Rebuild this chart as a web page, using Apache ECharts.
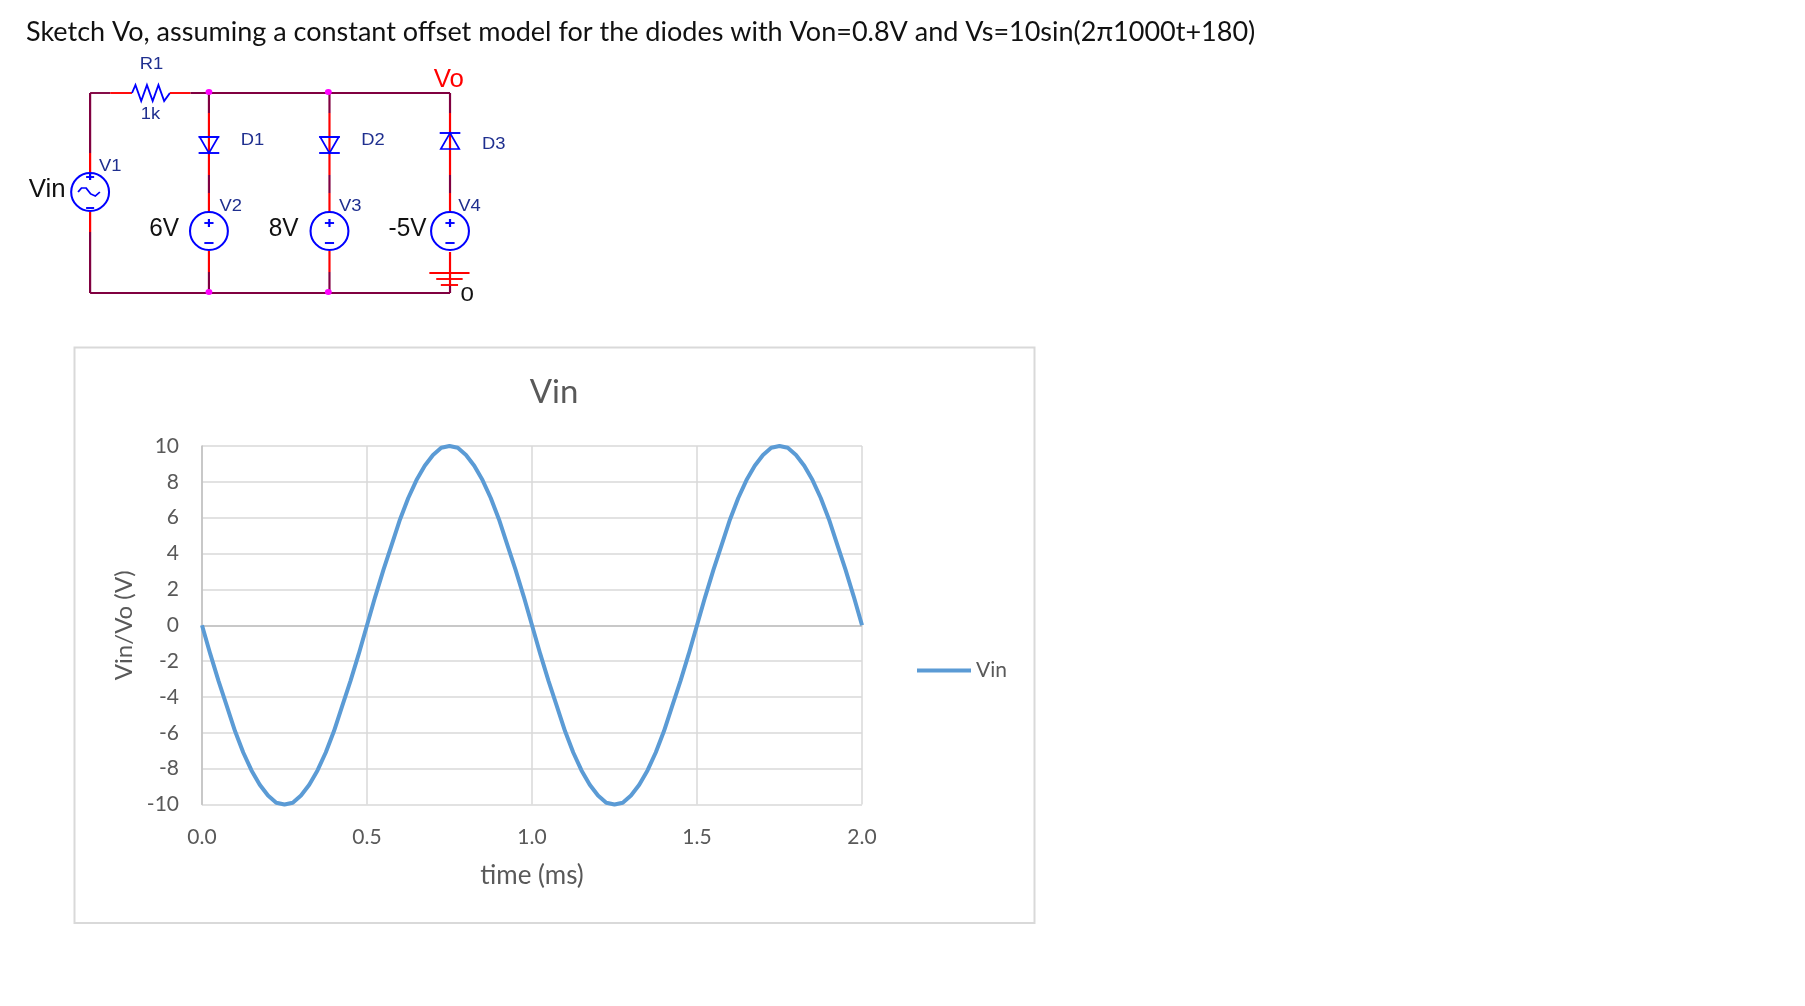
<!DOCTYPE html>
<html>
<head>
<meta charset="utf-8">
<style>
    html, body { margin: 0; padding: 0; background: #fff; }
    #main { width: 1805px; height: 1006px; }
</style>
</head>
<body>
<div id="main"></div>
<script src="https://cdn.jsdelivr.net/npm/echarts@6/dist/echarts.min.js"></script>
<script>
    // values
    var timeMs = [
        0, 0.025, 0.05, 0.075, 0.1, 0.125, 0.15, 0.175, 0.2, 0.225,
        0.25, 0.275, 0.3, 0.325, 0.35, 0.375, 0.4, 0.425, 0.45, 0.475,
        0.5, 0.525, 0.55, 0.575, 0.6, 0.625, 0.65, 0.675, 0.7, 0.725,
        0.75, 0.775, 0.8, 0.825, 0.85, 0.875, 0.9, 0.925, 0.95, 0.975,
        1, 1.025, 1.05, 1.075, 1.1, 1.125, 1.15, 1.175, 1.2, 1.225,
        1.25, 1.275, 1.3, 1.325, 1.35, 1.375, 1.4, 1.425, 1.45, 1.475,
        1.5, 1.525, 1.55, 1.575, 1.6, 1.625, 1.65, 1.675, 1.7, 1.725,
        1.75, 1.775, 1.8, 1.825, 1.85, 1.875, 1.9, 1.925, 1.95, 1.975, 2
    ];
    var vin = [
        0, -1.6, -3.1, -4.5, -5.9, -7.1, -8.1, -8.9, -9.5, -9.9,
        -10, -9.9, -9.5, -8.9, -8.1, -7.1, -5.9, -4.5, -3.1, -1.6,
        0, 1.6, 3.1, 4.5, 5.9, 7.1, 8.1, 8.9, 9.5, 9.9,
        10, 9.9, 9.5, 8.9, 8.1, 7.1, 5.9, 4.5, 3.1, 1.6,
        0, -1.6, -3.1, -4.5, -5.9, -7.1, -8.1, -8.9, -9.5, -9.9,
        -10, -9.9, -9.5, -8.9, -8.1, -7.1, -5.9, -4.5, -3.1, -1.6,
        0, 1.6, 3.1, 4.5, 5.9, 7.1, 8.1, 8.9, 9.5, 9.9,
        10, 9.9, 9.5, 8.9, 8.1, 7.1, 5.9, 4.5, 3.1, 1.6,
        0
    ];
    var seriesName = 'Vin';
    var chartTitle = 'Vin';
    var xName = 'time (ms)';
    var yName = 'Vin/Vo (V)';
    var heading = 'Sketch Vo, assuming a constant offset model for the diodes with Von=0.8V and Vs=10sin(2π1000t+180)';

    var WIRE = '#800040', RED = '#ff0000', BLUE = '#0000ff', NAVY = '#1f2f8f', DOT = '#ff00ff';
    var GRID = '#d9d9d9', TEXT = '#595959';
    var CHART_FONT = 'Lato, "Open Sans", sans-serif';
    var SCH_FONT = '"Liberation Sans", Arial, sans-serif';
    var SCH_SCALE_X = 1.148;

    var parts = [];

    function wire(x1, y1, x2, y2, color) {
        parts.push({
            type: 'line',
            shape: {x1: x1, y1: y1, x2: x2, y2: y2},
            style: {stroke: color, lineWidth: 1.9}
        });
    }

    function poly(points, close) {
        parts.push({
            type: close ? 'polygon' : 'polyline',
            shape: {points: points},
            style: {stroke: BLUE, fill: close ? 'transparent' : null, lineWidth: 1.6}
        });
    }

    function label(x, y, text, size, color, scaleX) {
        parts.push({
            type: 'text',
            x: x, y: y,
            scaleX: scaleX || 1,
            style: {
                text: text, font: size + 'px ' + SCH_FONT, fill: color,
                textAlign: 'center', textVerticalAlign: 'middle'
            }
        });
    }

    function source(x, y) {
        parts.push({
            type: 'ellipse',
            shape: {cx: x, cy: y, rx: 16.5, ry: 19},
            style: {stroke: BLUE, fill: 'transparent', lineWidth: 1.8}
        });
    }

    function plusMinus(x, y) {
        wire(x - 4, y - 8, x + 4, y - 8, BLUE);
        wire(x, y - 12, x, y - 4, BLUE);
        wire(x - 4, y + 12, x + 4, y + 12, BLUE);
    }

    // schematic branch from the top wire to the bottom wire
    function branch(x, upward) {
        wire(x, 93, x, 113, WIRE);
        wire(x, 113, x, 175, RED);
        wire(x, 175, x, 193, WIRE);
        wire(x, 193, x, 212, RED);
        source(x, 231);
        plusMinus(x, 231);
        if (upward) {
            poly([[x, 133], [x - 8, 149], [x + 8, 149]], true);
            wire(x - 9, 133, x + 9, 133, BLUE);
        } else {
            poly([[x - 8, 137], [x + 8, 137], [x, 153]], true);
            wire(x - 9, 137, x + 9, 137, BLUE);
            wire(x - 9, 153, x + 9, 153, BLUE);
        }
    }

    // outer loop
    wire(78.5, 93, 96, 93, WIRE);
    wire(96, 93, 115, 93, RED);
    poly([[115, 93], [118, 85], [123, 101], [128, 85], [133, 101], [138, 85], [143, 101], [148, 93]]);
    wire(148, 93, 166, 93, RED);
    wire(166, 93, 392, 93, WIRE);
    wire(78.5, 93, 78.5, 153, WIRE);
    wire(78.5, 153, 78.5, 173, RED);
    wire(78.5, 212, 78.5, 232, RED);
    wire(78.5, 232, 78.5, 293, WIRE);
    wire(78.5, 293, 392, 293, WIRE);

    // V1
    source(78.5, 192);
    wire(75, 177, 82, 177, BLUE);
    wire(78.5, 174, 78.5, 180, BLUE);
    wire(75, 208, 82, 208, BLUE);
    poly([[68, 192], [71, 188], [75, 188], [79, 194], [83, 196], [87, 192]]);

    // lower part of the D1 and D2 branches
    branch(182, false);
    wire(182, 251, 182, 272, RED);
    wire(182, 272, 182, 293, WIRE);
    branch(287, false);
    wire(287, 251, 287, 272, RED);
    wire(287, 272, 287, 293, WIRE);

    // D3 branch with the ground symbol
    branch(392, true);
    wire(392, 252, 392, 285, RED);
    wire(392, 285, 392, 293, WIRE);
    wire(374, 273, 409, 273, RED);
    wire(380, 279, 403, 279, RED);
    wire(384, 285, 399, 285, RED);

    [[182, 92], [286, 92], [182, 292], [286, 292]].forEach(function (p) {
        parts.push({
            type: 'circle',
            shape: {cx: p[0], cy: p[1], r: 3},
            style: {fill: DOT}
        });
    });

    label(132, 65, 'R1', 16, NAVY);
    label(131, 115, '1k', 16, NAVY);
    label(220, 141, 'D1', 16, NAVY);
    label(325, 141, 'D2', 16, NAVY);
    label(430, 145, 'D3', 16, NAVY);
    label(96, 167, 'V1', 16, NAVY);
    label(201, 207, 'V2', 16, NAVY);
    label(305, 207, 'V3', 16, NAVY);
    label(409, 207, 'V4', 16, NAVY);
    label(41, 190, 'Vin', 25, '#111', 0.9);
    label(143, 229, '6V', 25, '#111', 0.85);
    label(247, 229, '8V', 25, '#111', 0.85);
    label(355, 229, '-5V', 25, '#111', 0.85);
    label(391, 80, 'Vo', 25, RED, 0.9);
    label(407, 295, '0', 21, '#111');

    var myChart = echarts.init(document.getElementById('main'), null, {renderer: 'canvas'});
    var option = {
        animation: false,
        backgroundColor: '#fff',
        title: {
            text: chartTitle,
            left: 549,
            top: 371,
            textAlign: 'center',
            textStyle: {color: TEXT, fontFamily: CHART_FONT, fontSize: 33, fontWeight: 'normal'}
        },
        legend: {
            left: 917,
            top: 660,
            padding: 0,
            itemWidth: 54,
            itemHeight: 4,
            icon: 'rect',
            data: [seriesName],
            textStyle: {color: TEXT, fontFamily: CHART_FONT, fontSize: 21}
        },
        grid: {left: 202, top: 446, width: 660, height: 358.5},
        xAxis: {
            type: 'value',
            min: 0,
            max: 2,
            interval: 0.5,
            name: xName,
            nameLocation: 'middle',
            nameGap: 58,
            nameTextStyle: {color: TEXT, fontFamily: CHART_FONT, fontSize: 26},
            axisLine: {show: false, onZero: false},
            axisTick: {show: false},
            splitLine: {show: true, lineStyle: {color: GRID, width: 1.5}},
            axisLabel: {
                margin: 22,
                color: TEXT, fontFamily: CHART_FONT, fontSize: 21,
                formatter: function (v) { return v.toFixed(1); }
            }
        },
        yAxis: {
            type: 'value',
            min: -10,
            max: 10,
            interval: 2,
            name: yName,
            nameLocation: 'middle',
            nameGap: 66,
            nameTextStyle: {color: TEXT, fontFamily: CHART_FONT, fontSize: 24},
            axisLine: {show: true, lineStyle: {color: '#bfbfbf', width: 1.5}},
            axisTick: {show: false},
            splitLine: {show: true, lineStyle: {color: GRID, width: 1.5}},
            axisLabel: {margin: 23, color: TEXT, fontFamily: CHART_FONT, fontSize: 21}
        },
        series: [
            {
                name: seriesName,
                type: 'line',
                showSymbol: false,
                clip: false,
                z: 3,
                lineStyle: {color: '#5b9bd5', width: 4},
                itemStyle: {color: '#5b9bd5'},
                data: timeMs.map(function (t, i) { return [t, vin[i]]; }),
                markLine: {
                    silent: true,
                    symbol: 'none',
                    label: {show: false},
                    z: 1,
                    lineStyle: {color: '#bfbfbf', width: 1.5, type: 'solid'},
                    data: [{yAxis: 0}]
                }
            }
        ],
        graphic: {
            elements: [
                {
                    type: 'rect',
                    z: -1,
                    shape: {x: 74.5, y: 347.5, width: 960, height: 575.5},
                    style: {stroke: GRID, fill: '#fff', lineWidth: 2}
                },
                {
                    type: 'text',
                    x: 26, y: 32,
                    style: {
                        text: heading, font: '27px Lato, "Noto Sans", sans-serif', fill: '#111',
                        textAlign: 'left', textVerticalAlign: 'middle'
                    }
                },
                {type: 'group', scaleX: SCH_SCALE_X, scaleY: 1, children: parts}
            ]
        }
    };
    myChart.setOption(option);
</script>
</body>
</html>
